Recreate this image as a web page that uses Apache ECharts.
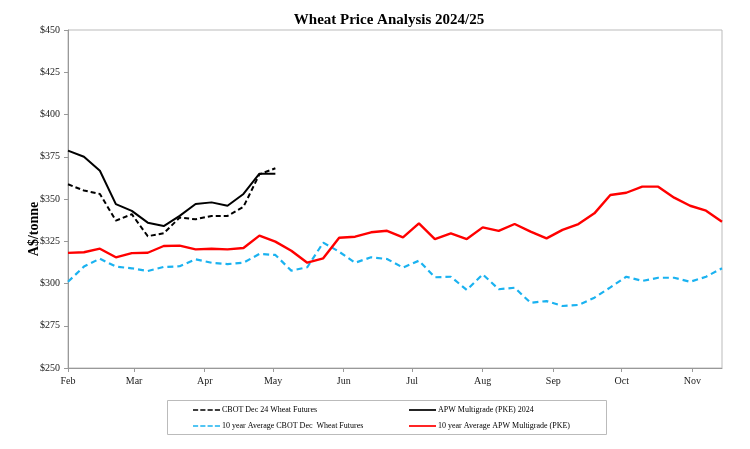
<!DOCTYPE html>
<html>
<head>
<meta charset="utf-8">
<script src="https://cdn.jsdelivr.net/npm/echarts@6/dist/echarts.min.js"></script>
<style>
html,body{margin:0;padding:0;background:#fff;}
#chart{width:750px;height:449px;}
</style>
</head>
<body>
<div id="chart"></div>
<script>
// Weekly dates starting 1 Feb 2024
const startDate = [2024, 1, 1];
const weeksCount = 42;

const cbotDec24 = [358.7, 355, 353, 337.2, 341, 328, 329.7, 339, 338, 340, 340, 345.4, 364.6, 368.2];
const apw2024 = [378.6, 375, 366.7, 347, 343, 336, 334, 340, 347, 348, 346, 353, 365, 365];
const avgCbot10 = [301, 310, 314.7, 310, 309, 307.4, 309.8, 310.2, 314.3, 312.3, 311.5, 312.3, 317.5, 316.9,
  307.6, 309.6, 324.2, 318.8, 312.3, 315.5, 314.5, 309.4, 313.5, 303.7, 304, 296.2, 305.4, 296.6,
  297.5, 288.6, 289.6, 286.7, 287.3, 291.6, 297.7, 304, 301.5, 303.4, 303.4, 301, 304, 309];
const avgApw10 = [318.1, 318.5, 320.6, 315.5, 318, 318.2, 322.2, 322.4, 320.2, 320.6, 320.2, 321, 328.3, 324.8,
  319.4, 312.3, 314.9, 327.1, 327.7, 330.3, 331.2, 327.3, 335.6, 326.3, 329.7, 326.3, 333.2, 331.1,
  335.2, 330.7, 326.7, 331.7, 335.2, 341.5, 352.4, 353.7, 357.3, 357.3, 350.8, 346, 343.1, 336.6];

const seriesNames = ['CBOT Dec 24 Wheat Futures', 'APW Multigrade (PKE) 2024',
  '10 year Average CBOT Dec  Wheat Futures', '10 year Average APW Multigrade (PKE)'];
const monthNames = ['Jan','Feb','Mar','Apr','May','Jun','Jul','Aug','Sep','Oct','Nov','Dec'];

const dates = [];
for (let i = 0; i < weeksCount; i++) {
  dates.push(new Date(startDate[0], startDate[1], startDate[2] + 7 * i).getTime());
}
const pair = arr => arr.map((v, i) => [dates[i], v]);

const dashIcon = 'path://M0,0h6v2h-6z M8.5,0h6v2h-6z M17,0h6v2h-6z M25.5,0h6v2h-6z';
const solidIcon = 'path://M0,0h31.5v2h-31.5z';

const serif = 'Liberation Serif, Times New Roman, serif';
const legendText = { fontFamily: serif, fontSize: 8, color: '#000', padding: [0, 0, 0, -3] };
const chart = echarts.init(document.getElementById('chart'));
chart.setOption({
  animation: false,
  backgroundColor: '#fff',
  title: {
    text: 'Wheat Price Analysis 2024/25',
    left: 384, top: 8, textAlign: 'center',
    textStyle: { fontFamily: serif, fontWeight: 'bold', fontSize: 15, color: '#000' }
  },
  grid: { left: 68, right: 28, top: 30, bottom: 81, show: true, borderColor: '#bbb', borderWidth: 1 },
  xAxis: {
    type: 'time',
    min: dates[0], max: dates[dates.length - 1],
    minInterval: 28 * 86400000, maxInterval: 31 * 86400000,
    axisLine: { lineStyle: { color: '#999' } },
    axisTick: { show: true, length: 4, lineStyle: { color: '#999' } },
    splitLine: { show: false },
    axisLabel: {
      fontFamily: serif, fontSize: 10, color: '#222', margin: 8,
      formatter: v => monthNames[new Date(v).getMonth()],
      showMinLabel: true, showMaxLabel: false
    }
  },
  yAxis: {
    type: 'value', min: 250, max: 450, interval: 25,
    axisLine: { show: true, lineStyle: { color: '#999' } },
    axisTick: { show: true, length: 4, lineStyle: { color: '#999' } },
    splitLine: { show: false },
    axisLabel: { fontFamily: serif, fontSize: 10, color: '#222', margin: 8, formatter: v => '$' + v }
  },
  graphic: [
    {
      type: 'text', x: 34, y: 229, rotation: Math.PI / 2,
      style: { text: 'A$/tonne', fontFamily: serif, fontWeight: 'bold', fontSize: 14, fill: '#000', align: 'center', verticalAlign: 'middle' }
    },
    {
      type: 'rect', shape: { x: 167.5, y: 400.5, width: 439, height: 34 },
      style: { fill: 'none', stroke: '#bbb', lineWidth: 1 }
    }
  ],
  legend: [
    {
      orient: 'vertical', left: 188, top: 401, itemWidth: 27, itemHeight: 2.4, itemGap: 8,
      data: [{ name: seriesNames[0], icon: dashIcon }, { name: seriesNames[2], icon: dashIcon }],
      textStyle: legendText
    },
    {
      orient: 'vertical', left: 404, top: 401, itemWidth: 27, itemHeight: 2.4, itemGap: 8,
      data: [{ name: seriesNames[1], icon: solidIcon }, { name: seriesNames[3], icon: solidIcon }],
      textStyle: legendText
    }
  ],
  series: [
    { name: seriesNames[0], type: 'line', data: pair(cbotDec24), symbol: 'none', showSymbol: false,
      itemStyle: { color: '#000' }, lineStyle: { color: '#000', width: 2, type: [5, 3] } },
    { name: seriesNames[1], type: 'line', data: pair(apw2024), symbol: 'none', showSymbol: false,
      itemStyle: { color: '#000' }, lineStyle: { color: '#000', width: 2 } },
    { name: seriesNames[2], type: 'line', data: pair(avgCbot10), symbol: 'none', showSymbol: false,
      itemStyle: { color: '#1AB2F0' }, lineStyle: { color: '#1AB2F0', width: 2.2, type: [6, 4] } },
    { name: seriesNames[3], type: 'line', data: pair(avgApw10), symbol: 'none', showSymbol: false,
      itemStyle: { color: '#FF0000' }, lineStyle: { color: '#FF0000', width: 2.4 } }
  ]
});
</script>
</body>
</html>
